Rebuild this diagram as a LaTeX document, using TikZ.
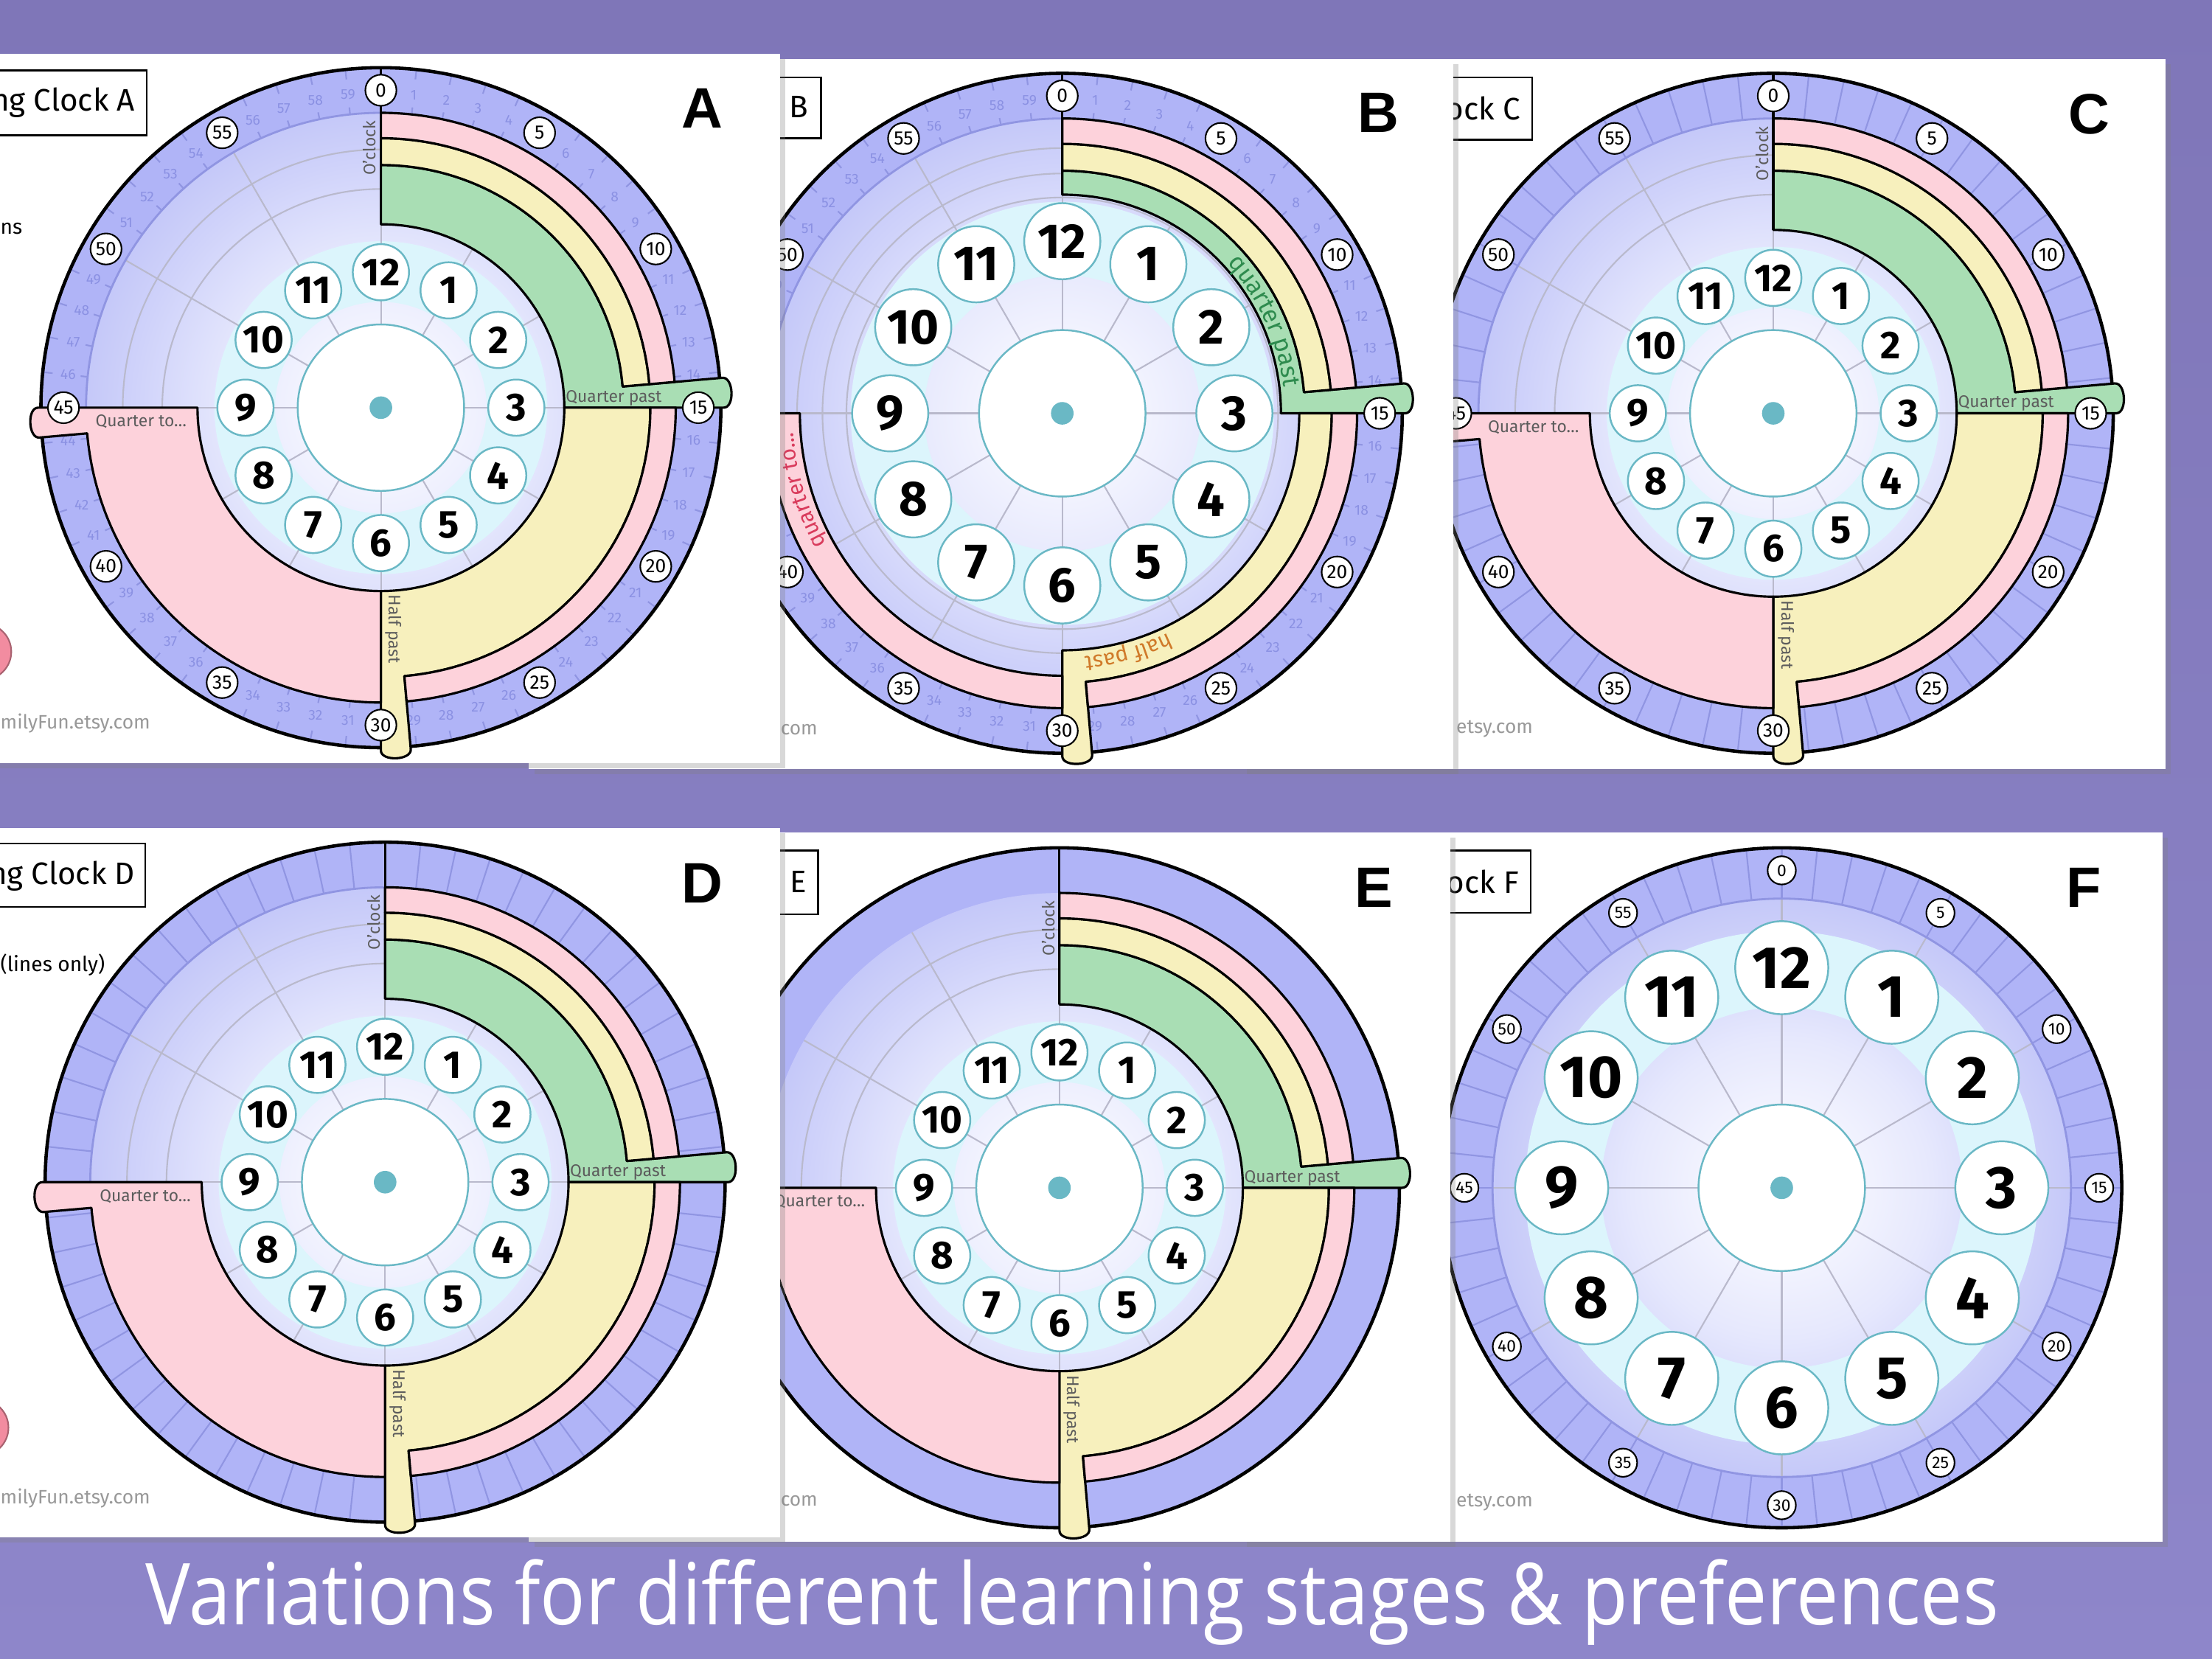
\documentclass[tikz,border=0pt]{standalone}
\usepackage{fontspec}
\usepackage{graphicx}
\setmainfont{Fira Sans}
\newfontfamily\capfont{Open Sans}
\newfontfamily\letterfont{Liberation Sans}
\usetikzlibrary{shadows,decorations.text}

\definecolor{bgtop}{HTML}{7F76B8}
\definecolor{bgbottom}{HTML}{8E86CA}
\definecolor{rimblue}{HTML}{B0B4F7}
\definecolor{rimline}{HTML}{9095E2}
\definecolor{rimtext}{HTML}{8B91E3}
\definecolor{discblue}{HTML}{ABB0F5}
\definecolor{discmid}{HTML}{E6E8FD}
\definecolor{discouter}{HTML}{CFD2FA}
\definecolor{cyanring}{HTML}{DCF5FC}
\definecolor{tealc}{HTML}{6AB8C5}
\definecolor{qgreen}{HTML}{A9DEB4}
\definecolor{qyellow}{HTML}{F7F0BD}
\definecolor{qpink}{HTML}{FDD2DB}
\definecolor{spokegray}{HTML}{B9B9CC}
\definecolor{labelgray}{HTML}{5C5C5C}
\definecolor{dotpink}{HTML}{F28CA0}
\definecolor{greentext}{HTML}{2E8B4E}
\definecolor{orangetext}{HTML}{D07A2A}
\definecolor{redtext}{HTML}{D93B5C}

\pgfdeclareradialshading{discshade}{\pgfpoint{0bp}{0bp}}{color(0bp)=(white); color(13bp)=(discmid); color(21bp)=(discouter); color(35bp)=(discblue); color(50bp)=(discblue)}

% rim and shaded disc
\newcommand{\clockback}[1]{%
  \fill[rimblue] (0,0) circle (241);
  \shade[shading=discshade] (0,0) circle (#1);
}

% ring, spokes, centre and hours
\newcommand{\clockfront}[7]{%
  \fill[cyanring, even odd rule] (0,0) circle (#4) circle (#3);
  \foreach \k in {0,...,11} \draw[spoke] ({90-30*\k}:59) -- ({90-30*\k}:#5);
  \draw[tealc, line width=0.7pt, fill=white] (0,0) circle (59);
  \fill[tealc] (0,0) circle (8);
  \foreach \h in {1,...,12}
    \node[hourbox, minimum size=#6, font=\bfseries\fontsize{#7}{#7}\selectfont] (#1-h\h) at ({90-30*\h}:#2) {\h};
}

% rim with ticks and small minute numbers
\newcommand{\rimnumbered}[1]{%
  \foreach \m in {1,...,59}{%
    \pgfmathtruncatemacro{\mrest}{mod(\m,5)}%
    \ifnum\mrest>0
      \draw[rimtick] ({90-6*\m}:209) -- ({90-6*\m}:214) ({90-6*\m}:234) -- ({90-6*\m}:240);
      \node[minnum] (#1-m\m) at ({90-6*\m}:223) {\m};
    \fi}%
}
\newcommand{\rimlined}[1]{\foreach \m in {0,...,59} \draw[rimtick] ({90-6*\m}:#1) -- ({90-6*\m}:241);}
\newcommand{\rimfives}[3]{%
  \foreach \m in {0,5,...,55}
    \node[fivebox, minimum size=#2, font=\fontsize{#3}{#3}\selectfont] (#1-f\m) at ({90-6*\m}:225) {\m};
}

% coloured bands: #1 green inner, #2 yellow lower inner, #3 pink lower inner
\newcommand{\bands}[3]{%
  \draw[band, fill=qgreen] (90:#1) -- (90:172) arc[start angle=90, end angle=5, radius=172]
    -- (5:243) .. controls (5:251) and (0:251) .. (0:243) -- (0:#1)
    arc[start angle=0, end angle=90, radius=#1] -- cycle;
  \draw[band, fill=qyellow] (90:172) -- (90:191) arc[start angle=90, end angle=5, radius=191]
    -- (5:172) arc[start angle=5, end angle=90, radius=172] -- cycle;
  \draw[band, fill=qpink] (90:191) -- (90:209) arc[start angle=90, end angle=5, radius=209]
    -- (5:191) arc[start angle=5, end angle=90, radius=191] -- cycle;
  \draw[band, fill=qyellow] (0:#2) -- (0:191) arc[start angle=0, end angle=-85, radius=191]
    -- (-85:243) .. controls (-85:251) and (-90:251) .. (-90:243) -- (-90:#2)
    arc[start angle=-90, end angle=0, radius=#2] -- cycle;
  \draw[band, fill=qpink] (0:191) -- (0:209) arc[start angle=0, end angle=-85, radius=209]
    -- (-85:191) arc[start angle=-85, end angle=0, radius=191] -- cycle;
  \draw[band, fill=qpink] (180:#3) -- (180:243) .. controls (180:251) and (185:251) .. (185:243)
    -- (185:209) arc[start angle=185, end angle=270, radius=209] -- (270:#3)
    arc[start angle=270, end angle=180, radius=#3] -- cycle;
  \draw[band] (90:#1) -- (90:241);
}
\newcommand{\fulllabels}[1]{%
  \node[bandlabel, rotate=90] (#1-oclock) at (-8,184) {O'clock};
  \node[bandlabel] (#1-qpast) at (165,7) {Quarter past};
  \node[bandlabel] (#1-qto) at (-170,-10) {Quarter to\dots};
  \node[bandlabel, rotate=-90] (#1-half) at (9,-157) {Half past};
}

\begin{document}
\begin{tikzpicture}[x=0.019133cm, y=0.019133cm,
    hourbox/.style={circle, draw=tealc, line width=0.7pt, fill=white, inner sep=0pt},
    minnum/.style={text=rimtext, font=\fontsize{5.5}{5.5}\selectfont, inner sep=0pt},
    fivebox/.style={circle, draw=black, line width=0.6pt, fill=white, inner sep=0pt},
    spoke/.style={draw=spokegray, line width=0.6pt},
    rimtick/.style={draw=rimline, line width=0.6pt},
    rimedge/.style={draw=rimline, line width=0.8pt},
    rimout/.style={draw=black, line width=1.3pt},
    band/.style={draw=black, line width=0.9pt, line join=round},
    bandlabel/.style={text=labelgray, font=\fontsize{6.5}{6.5}\selectfont, inner sep=0pt},
    pagebox/.style={fill=white, drop shadow={opacity=0.3, shadow xshift=2pt, shadow yshift=-2pt}},
    titlebox/.style={draw=black, line width=0.7pt, fill=white},
    titletext/.style={font=\fontsize{12}{12}\selectfont, inner sep=0pt},
    lettermark/.style={font=\letterfont\bfseries\fontsize{22}{22}\selectfont, inner sep=0pt},
    shop/.style={text=black!40, font=\fontsize{7.5}{7.5}\selectfont, inner sep=0pt, anchor=west},
    note/.style={font=\fontsize{8}{8}\selectfont, inner sep=0pt, anchor=west},
    dotline/.style={draw=dotpink!70!black, line width=0.6pt, fill=dotpink},
    captext/.style={text=white, font=\capfont\fontsize{33}{33}\selectfont, inner sep=0pt}
]
\useasboundingbox (0,0) rectangle (1568,1176);
\clip (0,0) rectangle (1568,1176);
\shade[top color=bgtop, bottom color=bgbottom] (0,0) rectangle (1568,1176);

% ---- top row ----
% clock C
\path[pagebox] (880,631) rectangle (1535,1134);
\begin{scope}[shift={(1257,883)}]
  \clockback{209}
  \draw[spoke] (0,0) circle (155) circle (183);
  \clockfront{C}{96}{75}{118}{209}{21.7pt}{15}
  \rimlined{209}
  \draw[rimedge] (0,0) circle (209);
  \draw[rimout] (0,0) circle (241);
  \bands{130}{130}{130}
  \fulllabels{C}
  \rimfives{C}{12pt}{7.5}
\end{scope}
\draw[titlebox] (1020,1077) rectangle (1086,1121);
\node[titletext, anchor=east] (C-title) at (1078,1099) {ock C};
\node[lettermark] (C-letter) at (1481,1095) {C};
\node[shop] (C-shop) at (1032,659) {etsy.com};

% clock B
\path[pagebox] (375,631) rectangle (1030,1134);
\begin{scope}[shift={(753,883)}]
  \clockback{209}
  \draw[spoke] (0,0) circle (136) circle (153) circle (170) circle (188);
  \clockfront{B}{122}{98}{150}{209}{29.4pt}{19}
  \rimnumbered{B}
  \draw[rimedge] (0,0) circle (209);
  \draw[rimout] (0,0) circle (241);
  \bands{155}{168}{186}
  \path[decorate, decoration={text along path, text align=center,
    text={|\fontsize{9.5}{9.5}\selectfont\color{greentext}|quarter past}}]
    (46:158) arc[start angle=46, end angle=3, radius=158];
  \path[decorate, decoration={text along path, text align=center,
    text={|\fontsize{8.5}{8.5}\selectfont\color{orangetext}|half past}}]
    (-60:173) arc[start angle=-60, end angle=-89, radius=173];
  \path[decorate, decoration={text along path, text align=center,
    text={|\fontsize{8.5}{8.5}\selectfont\color{redtext}|quarter to...}}]
    (212:191) arc[start angle=212, end angle=181, radius=191];
  \rimfives{B}{12pt}{7.5}
\end{scope}
\draw[titlebox] (530,1078) rectangle (582,1121);
\node[titletext] (B-title) at (566,1100) {B};
\node[lettermark] (B-letter) at (977,1096) {B};
\node[shop] (B-shop) at (553,659) {com};

% clock A
\path[pagebox] (-110,635) rectangle (553,1138);
\begin{scope}[shift={(270,887)}]
  \clockback{209}
  \draw[spoke] (0,0) circle (155) circle (183);
  \clockfront{A}{96}{75}{118}{209}{21.7pt}{15}
  \rimnumbered{A}
  \draw[rimedge] (0,0) circle (209);
  \draw[rimout] (0,0) circle (241);
  \bands{130}{130}{130}
  \fulllabels{A}
  \rimfives{A}{12pt}{7.5}
\end{scope}
\draw[titlebox] (-10,1080) rectangle (104,1126);
\node[titletext, anchor=east] (A-title) at (96,1103) {ng Clock A};
\node[lettermark] (A-letter) at (498,1099) {A};
\node[note] (A-note) at (0,1014) {ns};
\draw[dotline] (-12,714) circle (20);
\node[shop] (A-shop) at (0,663) {milyFun.etsy.com};

% ---- bottom row ----
% clock F
\path[pagebox] (880,83) rectangle (1533,586);
\begin{scope}[shift={(1263,334)}]
  \clockback{205}
  \clockfront{F}{156}{128}{182}{205}{35.9pt}{23}
  \rimlined{205}
  \draw[rimedge] (0,0) circle (205);
  \draw[rimout] (0,0) circle (241);
  \rimfives{F}{10.9pt}{6.5}
\end{scope}
\draw[titlebox] (1020,529) rectangle (1085,573);
\node[titletext, anchor=east] (F-title) at (1077,551) {ock F};
\node[lettermark] (F-letter) at (1477,547) {F};
\node[shop] (F-shop) at (1032,111) {etsy.com};

% clock E
\path[pagebox] (375,83) rectangle (1028,586);
\begin{scope}[shift={(751,334)}]
  \clockback{209}
  \draw[spoke] (0,0) circle (155) circle (183);
  \clockfront{E}{96}{75}{118}{209}{21.7pt}{15}
  \draw[rimout] (0,0) circle (241);
  \bands{130}{130}{130}
  \fulllabels{E}
\end{scope}
\draw[titlebox] (530,528) rectangle (580,573);
\node[titletext] (E-title) at (566,551) {E};
\node[lettermark] (E-letter) at (974,547) {E};
\node[shop] (E-shop) at (553,112) {com};

% clock D
\path[pagebox] (-110,86) rectangle (553,589);
\begin{scope}[shift={(273,338)}]
  \clockback{209}
  \draw[spoke] (0,0) circle (155) circle (183);
  \clockfront{D}{96}{75}{118}{209}{21.7pt}{15}
  \rimlined{209}
  \draw[rimedge] (0,0) circle (209);
  \draw[rimout] (0,0) circle (241);
  \bands{130}{130}{130}
  \fulllabels{D}
\end{scope}
\draw[titlebox] (-10,533) rectangle (103,578);
\node[titletext, anchor=east] (D-title) at (96,555) {ng Clock D};
\node[lettermark] (D-letter) at (498,550) {D};
\node[note] (D-note) at (0,492) {(lines only)};
\draw[dotline] (-14,164) circle (20);
\node[shop] (D-shop) at (0,114) {milyFun.etsy.com};

% caption
\node[captext] (caption) at (760,40) {\scalebox{0.88}[1]{Variations for different learning stages \& preferences}};
\end{tikzpicture}
\end{document}
